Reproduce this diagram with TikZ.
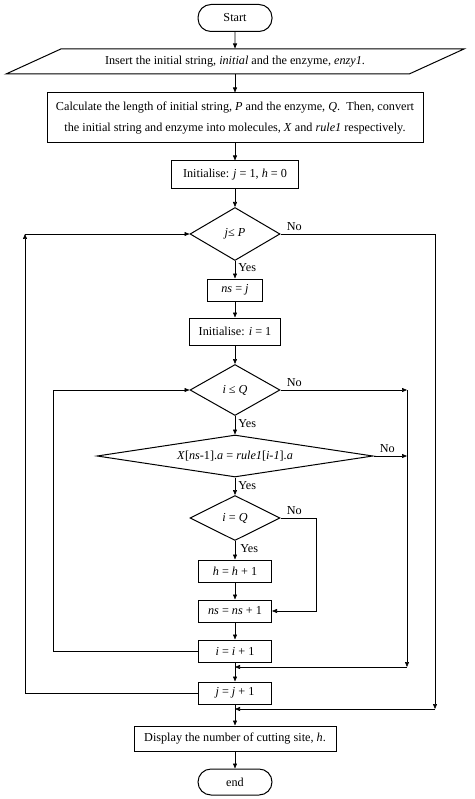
\documentclass[tikz,border=0pt]{standalone}
\usepackage{fontspec}
\setmainfont{Liberation Serif}
\usetikzlibrary{shapes.geometric,arrows.meta}

\begin{document}
\begin{tikzpicture}[x=1pt,y=-1pt,font=\fontsize{12.2}{21}\selectfont,
    box/.style={draw,line width=1pt,inner sep=2pt,align=center},
    term/.style={draw,line width=1pt,rounded corners=13pt,minimum width=74pt,minimum height=27pt},
    io/.style={draw,line width=1pt,trapezium,trapezium left angle=15.2,trapezium right angle=164.8,
      trapezium stretches=true,minimum width=460pt,minimum height=25pt,inner sep=0pt},
    dec/.style={draw,line width=1pt,diamond,inner sep=0pt,minimum width=90pt},
    line/.style={line width=0.6pt,-{Triangle[length=5pt,width=4pt]}},
    lab/.style={inner sep=0pt}]
      \useasboundingbox (0,0) rectangle (474,799);
      \node [term] (start) at (235,18) {Start};
      \node [io] (ins) at (235,61.5) {Insert the initial string, \textit{initial} and the enzyme, \textit{enzy1}.};
      \node [box,minimum width=376pt,minimum height=50pt] (calc) at (235,118)
        {Calculate the length of initial string, \textit{P} and the enzyme, \textit{Q}.\ \ Then, convert\\
         the initial string and enzyme into molecules, \textit{X} and \textit{rule1} respectively.};
      \node [box,minimum width=127pt,minimum height=28pt] (initj) at (235,175) {Initialise: \textit{j} = 1, \textit{h} = 0};
      \node [dec,minimum height=53pt] (dj) at (235,234) {\textit{j}≤ \textit{P}};
      \node [box,minimum width=55pt,minimum height=22pt] (nsj) at (235,290) {\textit{ns} = \textit{j}};
      \node [box,minimum width=91pt,minimum height=27pt] (initi) at (235,331.5) {Initialise: \textit{i} = 1};
      \node [dec,minimum height=51pt] (di) at (235,390) {\textit{i} ≤ \textit{Q}};
      \node [dec,shape aspect=6.5,minimum width=276pt,minimum height=42pt] (cmp) at (235,456)
        {\textit{X}[\textit{ns}-1].\textit{a} = \textit{rule1}[\textit{i-1}].\textit{a}};
      \node [dec,minimum height=45pt] (dq) at (235,518) {\textit{i} = \textit{Q}};
      \node [box,minimum width=73pt,minimum height=22pt] (hinc) at (235,571) {\textit{h} = \textit{h} + 1};
      \node [box,minimum width=73pt,minimum height=22pt] (nsinc) at (235,611) {\textit{ns} = \textit{ns} + 1};
      \node [box,minimum width=73pt,minimum height=22pt] (iinc) at (235,651) {\textit{i} = \textit{i} + 1};
      \node [box,minimum width=73pt,minimum height=22pt] (jinc) at (235,693) {\textit{j} = \textit{j} + 1};
      \node [box,minimum width=202pt,minimum height=25pt] (disp) at (235,738.5) {Display the number of cutting site, \textit{h}.};
      \node [term,minimum height=26pt] (end) at (235,782) {end};

      \draw [line] (start) -- (ins);
      \draw [line] (ins) -- (calc);
      \draw [line] (calc) -- (initj);
      \draw [line] (initj) -- (dj);
      \draw [line] (dj) -- (nsj) node [lab,pos=0.35,right=3pt] (yes1) {Yes};
      \draw [line] (nsj) -- (initi);
      \draw [line] (initi) -- (di);
      \draw [line] (di) -- (cmp) node [lab,pos=0.4,right=3pt] (yes2) {Yes};
      \draw [line] (cmp) -- (dq) node [lab,pos=0.45,right=3pt] (yes3) {Yes};
      \draw [line] (dq) -- (hinc) node [lab,pos=0.4,right=5pt] (yes4) {Yes};
      \draw [line] (hinc) -- (nsinc);
      \draw [line] (nsinc) -- (iinc);
      \draw [line] (iinc) -- (jinc);
      \draw [line] (jinc) -- (disp);
      \draw [line] (disp) -- (end);

      \coordinate (oL) at (25,234);
      \coordinate (iL) at (53,390);
      \coordinate (iR) at (407,390);
      \coordinate (iRb) at (407,667);
      \coordinate (oR) at (435,709);
      \coordinate (qR) at (316,518);
      \draw [line] (jinc.west) -| (oL);
      \draw [line] (oL) -- (dj.west);
      \draw [line] (iinc.west) -| (iL) -- (di.west);
      \draw [line] (di.east) node [lab,anchor=south west,xshift=6pt,yshift=3pt] (no2) {No} -- (iR);
      \draw [line] (cmp.east) node [lab,anchor=south west,xshift=6pt,yshift=3pt] (no3) {No} -- (cmp.east -| iR);
      \draw [line] (iR) -- (iRb);
      \draw [line] (iRb) -- (iRb -| iinc.south);
      \draw [line] (dj.east) node [lab,anchor=south west,xshift=6pt,yshift=3pt] (no1) {No} -| (oR);
      \draw [line] (oR) -- (oR -| jinc.south);
      \draw [line] (dq.east) node [lab,anchor=south west,xshift=6pt,yshift=3pt] (no4) {No} -- (qR) |- (nsinc.east);
    \end{tikzpicture}
\end{document}
